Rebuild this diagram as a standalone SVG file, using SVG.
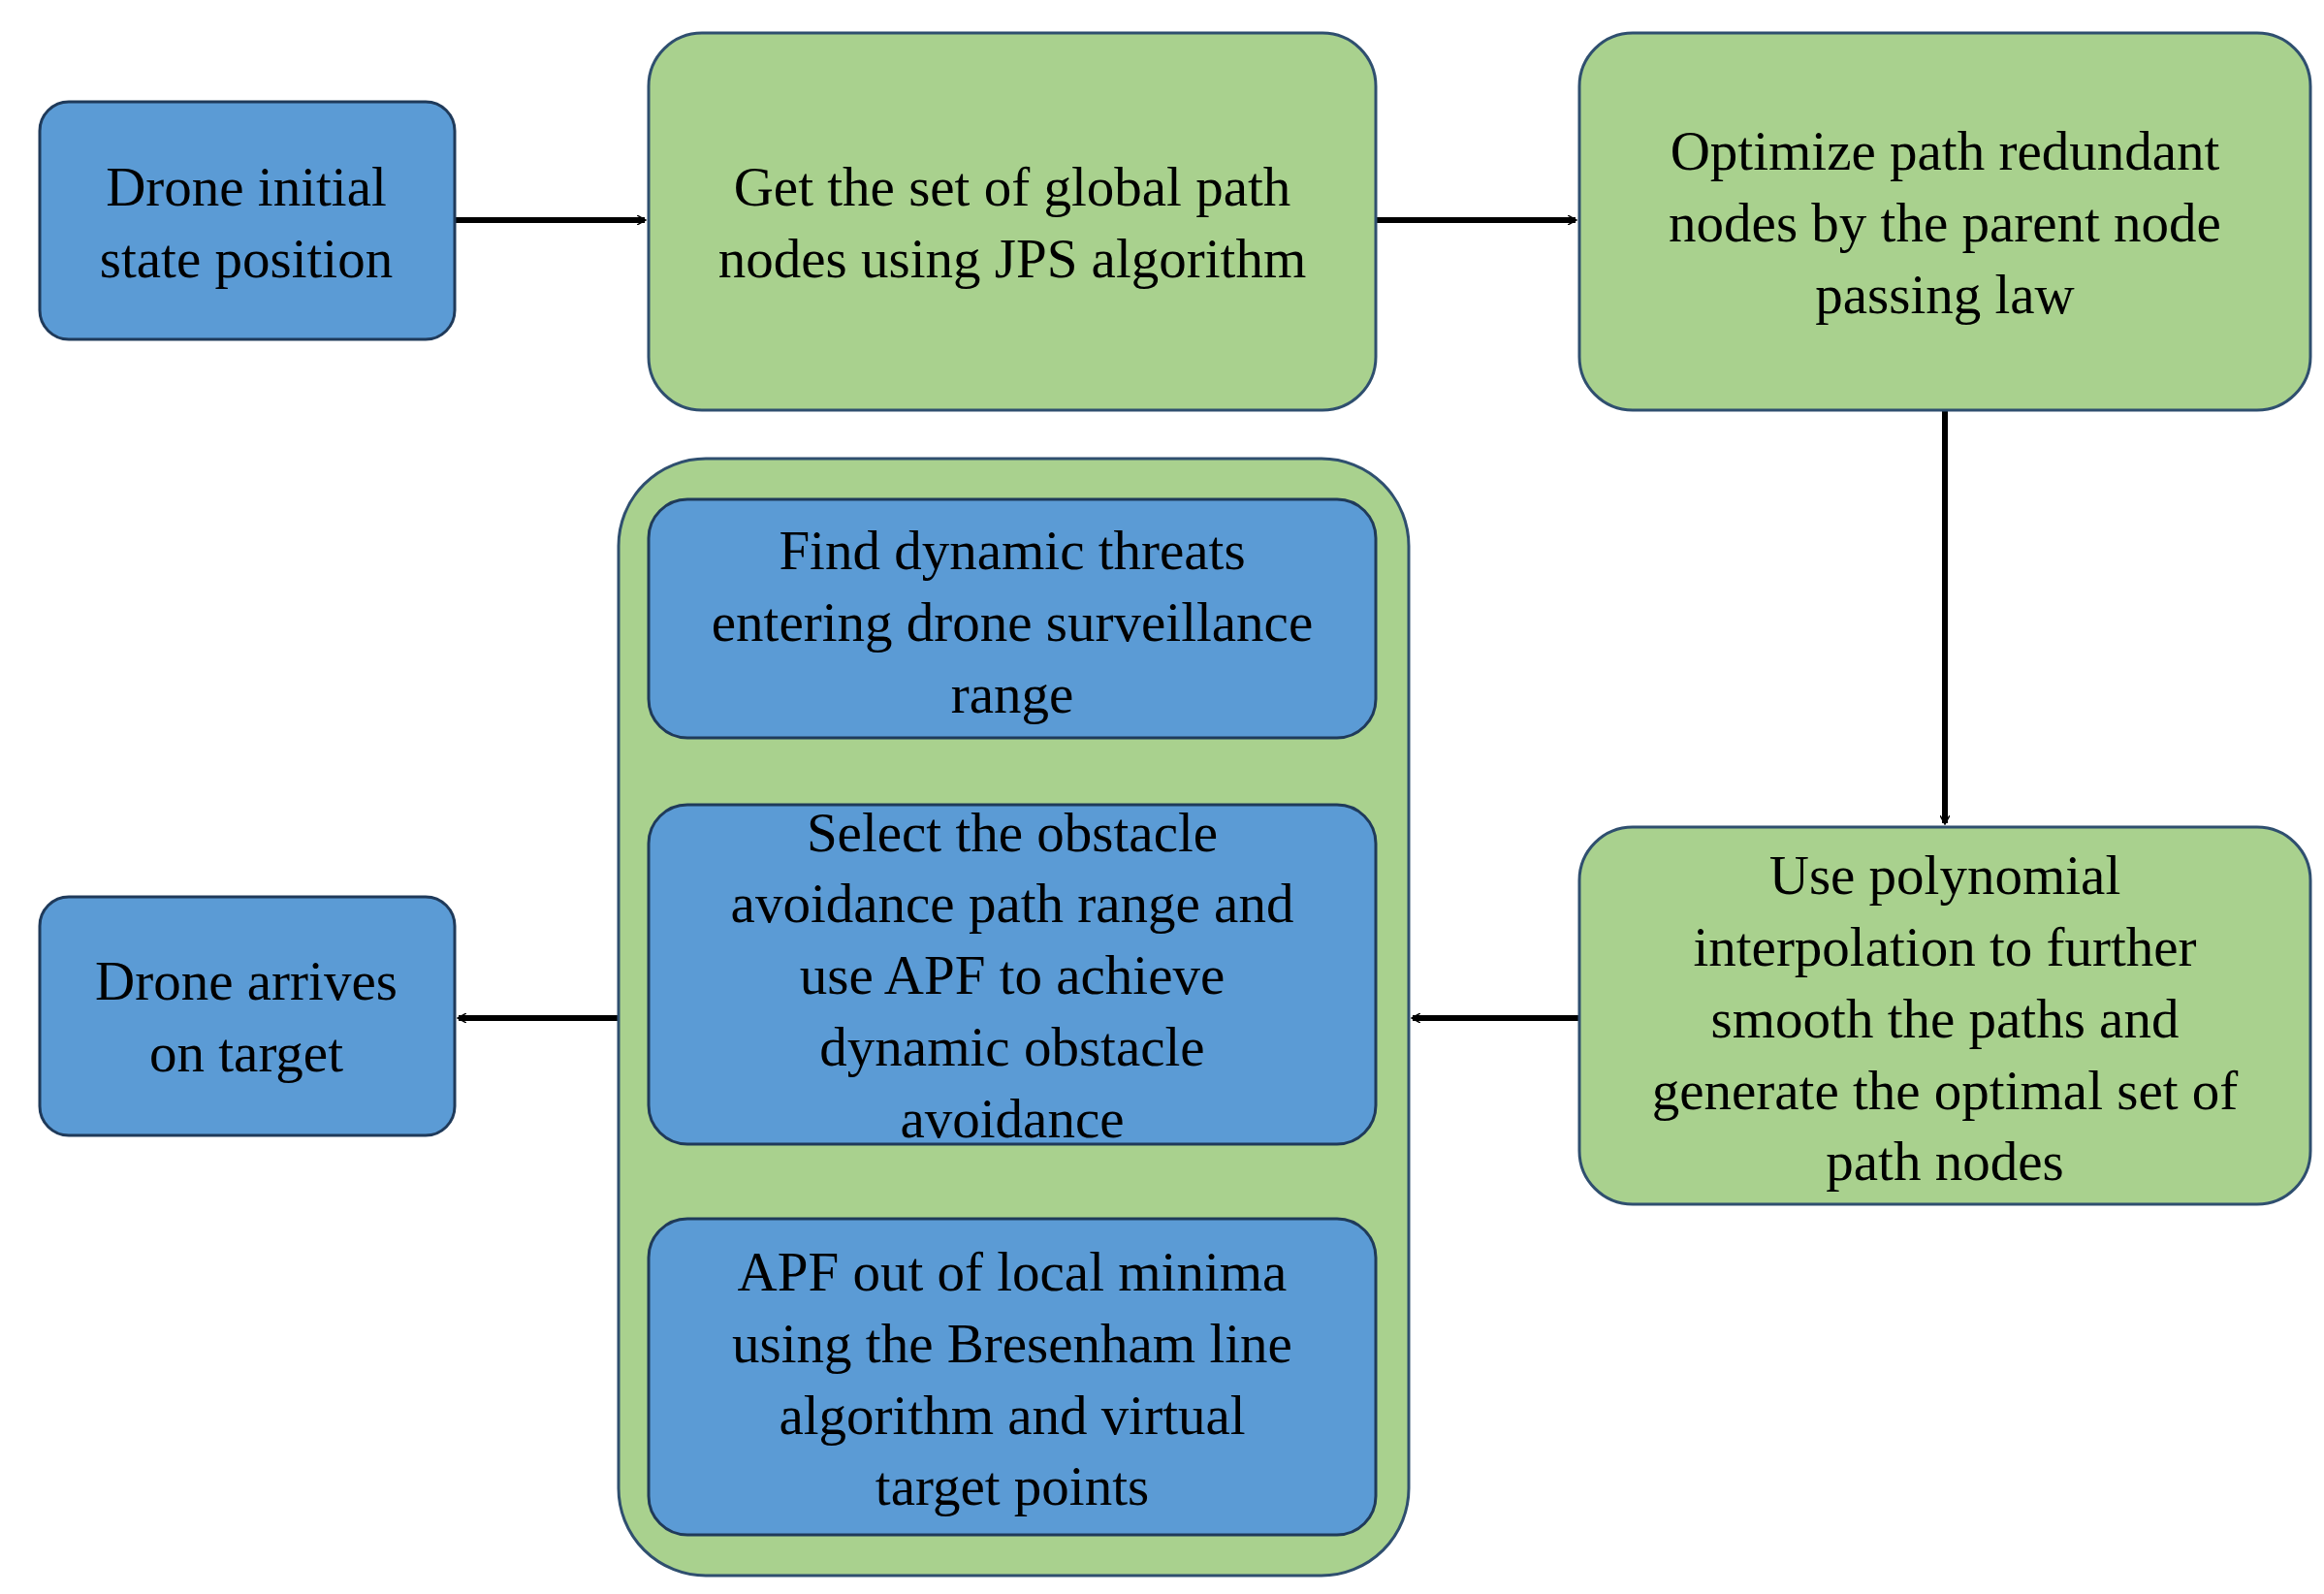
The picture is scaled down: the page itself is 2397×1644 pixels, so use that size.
<svg xmlns="http://www.w3.org/2000/svg" width="2397" height="1644" viewBox="0 0 2397 1644">
<style>
.b{fill:#5b9bd5;stroke:#1f3a5a;stroke-width:3}
.g{fill:#a9d18e;stroke:#2f4f6f;stroke-width:3}
text{font-family:"Liberation Serif",serif;font-size:57px;fill:#000;text-anchor:middle;dominant-baseline:central}
.c{stroke:#000;stroke-width:6;fill:none;marker-end:url(#a)}
</style>
<defs><marker id="a" markerWidth="10" markerHeight="10" refX="8" refY="5" orient="auto" markerUnits="userSpaceOnUse" viewBox="0 0 10 10"><path d="M0,0 L9,5 L0,10" fill="none" stroke="#000" stroke-width="1.5"/></marker></defs>
<rect width="2397" height="1644" fill="#fff"/>
<g id="connectors">
<line class="c" x1="469" y1="227" x2="665" y2="227"/>
<line class="c" x1="1419" y1="227" x2="1625" y2="227"/>
<line class="c" x1="2006" y1="423" x2="2006" y2="849"/>
<line class="c" x1="1629" y1="1050" x2="1457" y2="1050"/>
<line class="c" x1="638" y1="1050" x2="473" y2="1050"/>
</g>
<g id="n1"><rect class="b" x="41" y="105" width="428" height="245" rx="30"/><text x="254" y="192">Drone initial</text><text x="254" y="266">state position</text></g>
<g id="n2"><rect class="g" x="669" y="34" width="750" height="389" rx="55"/><text x="1044" y="192">Get the set of global path</text><text x="1044" y="266">nodes using JPS algorithm</text></g>
<g id="n3"><rect class="g" x="1629" y="34" width="754" height="389" rx="55"/><text x="2006" y="155">Optimize path redundant</text><text x="2006" y="229">nodes by the parent node</text><text x="2006" y="303">passing law</text></g>
<g id="n4"><rect class="g" x="1629" y="853" width="754" height="389" rx="55"/><text x="2006" y="902">Use polynomial</text><text x="2006" y="976">interpolation to further</text><text x="2006" y="1050">smooth the paths and</text><text x="2006" y="1124">generate the optimal set of</text><text x="2006" y="1197">path nodes</text></g>
<g id="container"><rect class="g" x="638" y="473" width="815" height="1152" rx="90"/></g>
<g id="n5"><rect class="b" x="669" y="515" width="750" height="246" rx="40"/><text x="1044" y="567">Find dynamic threats</text><text x="1044" y="641">entering drone surveillance</text><text x="1044" y="715">range</text></g>
<g id="n6"><rect class="b" x="669" y="830" width="750" height="350" rx="40"/><text x="1044" y="858">Select the obstacle</text><text x="1044" y="931">avoidance path range and</text><text x="1044" y="1005">use APF to achieve</text><text x="1044" y="1079">dynamic obstacle</text><text x="1044" y="1153">avoidance</text></g>
<g id="n7"><rect class="b" x="669" y="1257" width="750" height="326" rx="40"/><text x="1044" y="1311">APF out of local minima</text><text x="1044" y="1385">using the Bresenham line</text><text x="1044" y="1459">algorithm and virtual</text><text x="1044" y="1532">target points</text></g>
<g id="n8"><rect class="b" x="41" y="925" width="428" height="246" rx="30"/><text x="254" y="1011">Drone arrives</text><text x="254" y="1085">on target</text></g>
</svg>
